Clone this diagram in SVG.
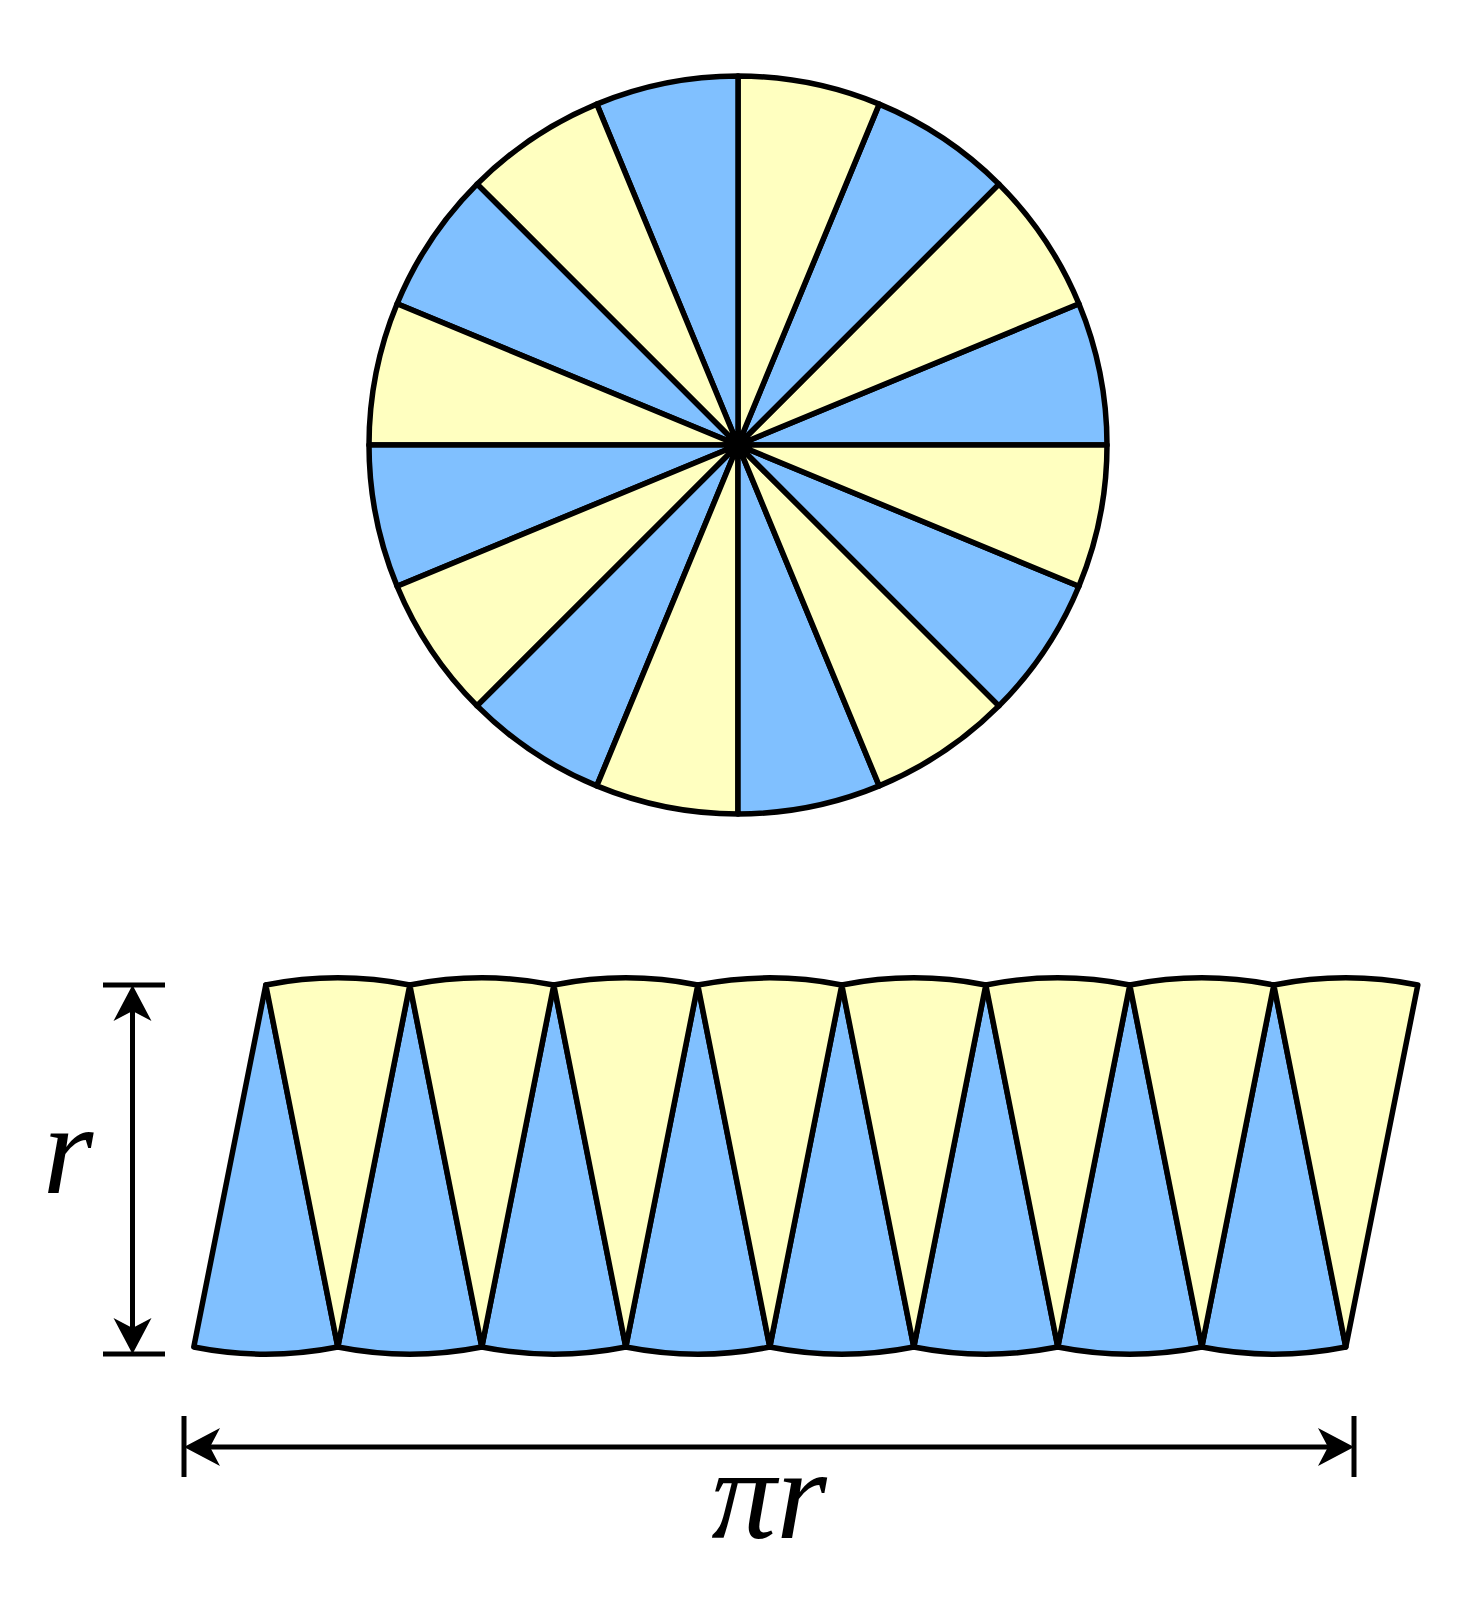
<svg xmlns="http://www.w3.org/2000/svg" width="1477" height="1600" viewBox="0 0 1477 1600">
<style>
.b{fill:#80C0FF}
.y{fill:#FFFFC0}
.s{stroke:#000;stroke-width:5.5;stroke-linejoin:round}
.dim{stroke:#000;stroke-width:5;fill:none}
.lbl{font-family:"Liberation Serif","DejaVu Serif",serif;font-style:italic;font-size:130px;fill:#000}
</style>
<defs>
<marker id="ah" markerUnits="userSpaceOnUse" orient="auto-start-reverse" overflow="visible" refX="0" refY="0" markerWidth="40" markerHeight="40">
<path d="M20,0 L-16,-19 L-6,0 L-16,19 Z" fill="#000"/>
</marker>
</defs>
<rect width="1477" height="1600" fill="#fff"/>
<g id="circle" class="s">
<path class="b" d="M738,445 L1107,445 A369,369 0 0 0 1078.91,303.79 Z"/>
<path class="y" d="M738,445 L1078.91,303.79 A369,369 0 0 0 998.92,184.08 Z"/>
<path class="b" d="M738,445 L998.92,184.08 A369,369 0 0 0 879.21,104.09 Z"/>
<path class="y" d="M738,445 L879.21,104.09 A369,369 0 0 0 738,76 Z"/>
<path class="b" d="M738,445 L738,76 A369,369 0 0 0 596.79,104.09 Z"/>
<path class="y" d="M738,445 L596.79,104.09 A369,369 0 0 0 477.08,184.08 Z"/>
<path class="b" d="M738,445 L477.08,184.08 A369,369 0 0 0 397.09,303.79 Z"/>
<path class="y" d="M738,445 L397.09,303.79 A369,369 0 0 0 369,445 Z"/>
<path class="b" d="M738,445 L369,445 A369,369 0 0 0 397.09,586.21 Z"/>
<path class="y" d="M738,445 L397.09,586.21 A369,369 0 0 0 477.08,705.92 Z"/>
<path class="b" d="M738,445 L477.08,705.92 A369,369 0 0 0 596.79,785.91 Z"/>
<path class="y" d="M738,445 L596.79,785.91 A369,369 0 0 0 738,814 Z"/>
<path class="b" d="M738,445 L738,814 A369,369 0 0 0 879.21,785.91 Z"/>
<path class="y" d="M738,445 L879.21,785.91 A369,369 0 0 0 998.92,705.92 Z"/>
<path class="b" d="M738,445 L998.92,705.92 A369,369 0 0 0 1078.91,586.21 Z"/>
<path class="y" d="M738,445 L1078.91,586.21 A369,369 0 0 0 1107,445 Z"/>
</g>
<g id="strip" class="s">
<path class="b" d="M265.8,985 L193.8,1347 A369,369 0 0 0 337.8,1347 Z"/>
<path class="b" d="M409.8,985 L337.8,1347 A369,369 0 0 0 481.8,1347 Z"/>
<path class="b" d="M553.8,985 L481.8,1347 A369,369 0 0 0 625.8,1347 Z"/>
<path class="b" d="M697.8,985 L625.8,1347 A369,369 0 0 0 769.8,1347 Z"/>
<path class="b" d="M841.8,985 L769.8,1347 A369,369 0 0 0 913.8,1347 Z"/>
<path class="b" d="M985.8,985 L913.8,1347 A369,369 0 0 0 1057.8,1347 Z"/>
<path class="b" d="M1129.8,985 L1057.8,1347 A369,369 0 0 0 1201.8,1347 Z"/>
<path class="b" d="M1273.8,985 L1201.8,1347 A369,369 0 0 0 1345.8,1347 Z"/>
<path class="y" d="M337.8,1347 L265.8,985 A369,369 0 0 1 409.8,985 Z"/>
<path class="y" d="M481.8,1347 L409.8,985 A369,369 0 0 1 553.8,985 Z"/>
<path class="y" d="M625.8,1347 L553.8,985 A369,369 0 0 1 697.8,985 Z"/>
<path class="y" d="M769.8,1347 L697.8,985 A369,369 0 0 1 841.8,985 Z"/>
<path class="y" d="M913.8,1347 L841.8,985 A369,369 0 0 1 985.8,985 Z"/>
<path class="y" d="M1057.8,1347 L985.8,985 A369,369 0 0 1 1129.8,985 Z"/>
<path class="y" d="M1201.8,1347 L1129.8,985 A369,369 0 0 1 1273.8,985 Z"/>
<path class="y" d="M1345.8,1347 L1273.8,985 A369,369 0 0 1 1417.8,985 Z"/>
</g>
<g id="connectors">
<line class="dim" x1="103" y1="985" x2="165" y2="985" stroke-width="5.5"/>
<line class="dim" x1="103" y1="1354" x2="165" y2="1354" stroke-width="5.5"/>
<line class="dim" x1="132.5" y1="1005" x2="132.5" y2="1334" marker-start="url(#ah)" marker-end="url(#ah)"/>
<line class="dim" x1="184" y1="1416" x2="184" y2="1477" stroke-width="5.5"/>
<line class="dim" x1="1354" y1="1416" x2="1354" y2="1477" stroke-width="5.5"/>
<line class="dim" x1="204" y1="1447" x2="1334" y2="1447" marker-start="url(#ah)" marker-end="url(#ah)"/>
</g>
<g id="labels">
<text class="lbl" x="68" y="1193" text-anchor="middle">r</text>
<text class="lbl" x="769" y="1538" text-anchor="middle">πr</text>
</g>
</svg>
